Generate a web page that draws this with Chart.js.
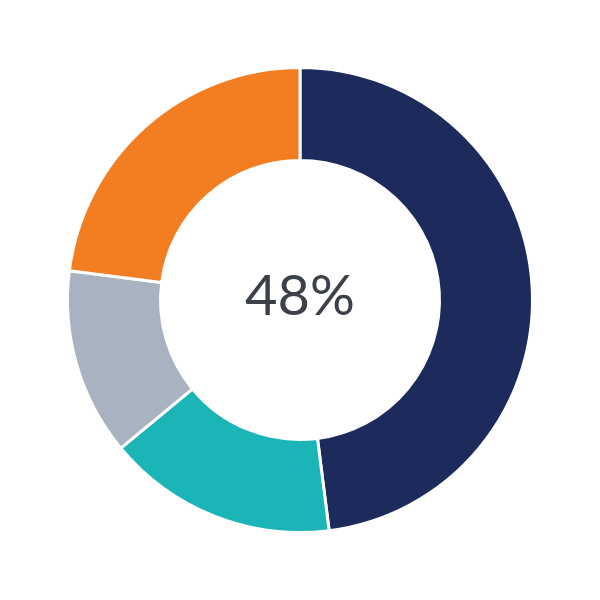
<!DOCTYPE html>
<html>
<head>
<meta charset="utf-8">
<script src="https://cdn.jsdelivr.net/npm/chart.js@4"></script>
<style>
  html, body { margin: 0; padding: 0; background: #ffffff; }
  #wrap { width: 600px; height: 600px; position: relative; }
</style>
</head>
<body>
<div id="wrap"><canvas id="grafica_dona"></canvas></div>
<script>
const labels = ["Navy", "Teal", "Gray", "Orange"];
const values = [48, 16, 13, 23];
const colors = ["#1c2b5b", "#1bb5b8", "#a8b2c0", "#f37d21"];
const centerText = "48%";

// texto del centro
const textoCentro = {
  id: "textoCentro",
  afterDraw(chart) {
    const ctx = chart.ctx;
    const meta = chart.getDatasetMeta(0).data[0];
    ctx.save();
    ctx.font = "400 56px Lato, 'Open Sans', sans-serif";
    ctx.fillStyle = "#3b4049";
    ctx.textAlign = "center";
    ctx.textBaseline = "middle";
    ctx.fillText(centerText, meta.x, meta.y - 3);
    ctx.restore();
  }
};

new Chart("grafica_dona", {
  type: "doughnut",
  data: {
    labels: labels,
    datasets: [{
      data: values,
      backgroundColor: colors,
      borderColor: "#ffffff",
      borderWidth: 3
    }]
  },
  options: {
    responsive: true,
    maintainAspectRatio: false,
    animation: false,
    cutout: "60%",
    layout: { padding: 66 },
    plugins: {
      legend: { display: false },
      tooltip: { enabled: false }
    }
  },
  plugins: [textoCentro]
});
</script>
</body>
</html>
